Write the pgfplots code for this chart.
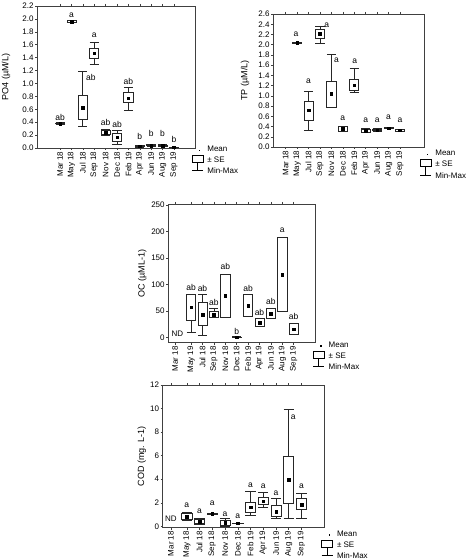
\documentclass[border=0pt]{standalone}
\usepackage{fontspec}
\setmainfont{Liberation Sans}
\usepackage{pgfplots}
\pgfplotsset{compat=1.18}
\usepgfplotslibrary{statistics}

\pgfplotsset{
  pan/.style={
    scale only axis, clip=false, anchor=south west,
    font=\fontsize{8}{9}\selectfont,
    ticklabel style={font=\fontsize{8}{9}\selectfont},
    label style={font=\fontsize{9}{10}\selectfont},
    /pgf/number format/assume math mode=true,
    axis line style={draw=black!75, line width=0.7pt},
    tick style={draw=black!75, line width=0.5pt},
    tick align=outside, major tick length=2pt,
    xtick pos=both, ytick pos=left,
    x tick label style={rotate=90, anchor=east, inner sep=1.5pt},
    y tick label style={inner sep=1.5pt},
    boxplot/draw direction=y,
    boxplot/box extend=0.8, boxplot/whisker extend=0.8,
    boxplot/draw/median/.code={},
  },
  lett/.style={draw=none, mark=none, nodes near coords, point meta=explicit symbolic,
    nodes near coords style={anchor=center, inner sep=0pt, font=\fontsize{8.5}{9}\selectfont}},
  mn/.style={only marks, mark=square*, mark size=1.3pt, black},
}

% box: position, min, mean-SE, mean, mean+SE, max
\newcommand{\bx}[6]{\addplot[black!85, line width=0.7pt, boxplot prepared={draw position=#1,
  lower whisker=#2, lower quartile=#3, median=#4, upper quartile=#5, upper whisker=#6}] coordinates {};}

\newcommand{\lgd}[2]{%
  \begin{scope}[shift={(#1pt,#2pt)}, x=1pt, y=1pt, line width=0.7pt, font=\fontsize{8}{9}\selectfont]
    \fill (7,-2.6) rectangle ++(1.4,1.4);
    \draw (0,-7) rectangle (11,-14);
    \draw (5.5,-14) -- (5.5,-22.5);
    \draw[line width=1pt] (0,-22.5) -- (11,-22.5);
    \node[anchor=west, inner sep=0pt] at (15,0) {Mean};
    \node[anchor=west, inner sep=0pt] at (15,-11.5) {± SE};
    \node[anchor=west, inner sep=0pt] at (15,-22.5) {Min-Max};
  \end{scope}}

\begin{document}
\begin{tikzpicture}
\path[use as bounding box] (0,0) rectangle (474pt,560pt);

% ---- PO4 ----
\begin{axis}[pan, at={(37.3pt,412pt)}, width=157.7pt, height=142pt,
  xmin=-2, xmax=11.85, ymin=0, ymax=2.2,
  xtick={0,...,10},
  xticklabels={Mar 18,May 18,Jul 18,Sep 18,Nov 18,Dec 18,Feb 19,Apr 19,Jun 19,Aug 19,Sep 19},
  ytick={0,0.2,0.4,0.6,0.8,1.0,1.2,1.4,1.6,1.8,2.0,2.2},
  yticklabel style={/pgf/number format/.cd, fixed, fixed zerofill, precision=1},
  ylabel={PO4 (µM/L)}, ylabel style={at={(axis description cs:-0.198,0.5)}, anchor=center}]
\bx{0}{0.37}{0.375}{0.38}{0.385}{0.39}
\bx{1}{1.945}{1.95}{1.96}{1.97}{1.975}
\bx{2}{0.34}{0.44}{0.625}{0.81}{1.18}
\bx{3}{1.30}{1.385}{1.467}{1.545}{1.64}
\bx{4}{0.20}{0.21}{0.24}{0.27}{0.29}
\bx{5}{0.06}{0.10}{0.165}{0.23}{0.28}
\bx{6}{0.59}{0.70}{0.77}{0.86}{0.94}
\bx{7}{0.015}{0.02}{0.03}{0.04}{0.045}
\bx{8}{0.03}{0.035}{0.04}{0.05}{0.055}
\bx{9}{0.02}{0.025}{0.035}{0.045}{0.06}
\bx{10}{0.005}{0.008}{0.01}{0.012}{0.015}
\addplot[mn] coordinates {(0,0.38) (1,1.96) (2,0.625) (3,1.467) (4,0.24) (5,0.165)
  (6,0.77) (7,0.03) (8,0.04) (9,0.035) (10,0.01)};
\addplot[lett] coordinates {(0,0.475) [ab] (1,2.06) [a] (2.7,1.09) [ab] (3,1.75) [a]
  (4,0.40) [ab] (5,0.37) [ab] (6,1.03) [ab] (7,0.175) [b] (8,0.22) [b] (9,0.22) [b] (10,0.135) [b]};
\end{axis}
\lgd{192}{411.5}

% ---- TP ----
\begin{axis}[pan, at={(273.3pt,413pt)}, width=150.7pt, height=133pt,
  xmin=-1.08, xmax=12.1, ymin=0, ymax=2.6,
  xtick={0,...,10},
  xticklabels={Mar 18,May 18,Jul 18,Sep 18,Nov 18,Dec 18,Feb 19,Apr 19,Jun 19,Aug 19,Sep 19},
  ytick={0,0.2,0.4,0.6,0.8,1.0,1.2,1.4,1.6,1.8,2.0,2.2,2.4,2.6},
  yticklabel style={/pgf/number format/.cd, fixed, fixed zerofill, precision=1},
  ylabel={TP (µM/L)}, ylabel style={at={(axis description cs:-0.188,0.5)}, anchor=center}]
\bx{1}{2.03}{2.035}{2.04}{2.045}{2.05}
\bx{2}{0.33}{0.53}{0.72}{0.89}{1.08}
\bx{3}{2.03}{2.12}{2.21}{2.30}{2.36}
\bx{4}{0.77}{0.77}{1.04}{1.29}{1.81}
\bx{5}{0.30}{0.30}{0.36}{0.41}{0.41}
\bx{6}{1.06}{1.10}{1.21}{1.32}{1.54}
\bx{7}{0.28}{0.29}{0.32}{0.35}{0.36}
\bx{8}{0.31}{0.32}{0.33}{0.35}{0.36}
\bx{9}{0.36}{0.365}{0.37}{0.38}{0.39}
\bx{10}{0.31}{0.315}{0.33}{0.345}{0.35}
\addplot[mn] coordinates {(1,2.04) (2,0.72) (3,2.21) (4,1.04) (5,0.36) (6,1.21)
  (7,0.32) (8,0.33) (9,0.37) (10,0.33)};
\addplot[lett] coordinates {(0.9,2.2) [a] (2,1.28) [a] (3.6,2.38) [a] (4.45,1.70) [a]
  (5,0.56) [a] (6.05,1.67) [a] (7,0.515) [a] (8,0.515) [a] (9,0.58) [a] (10,0.515) [a]};
\end{axis}
\lgd{420}{407.3}

% ---- OC ----
\begin{axis}[pan, at={(168.3pt,217.3pt)}, width=147.4pt, height=138.7pt,
  xmin=-1, xmax=11.93, ymin=-10, ymax=252,
  xtick={-0.4,1,2,3,4,5,6,7,8,9,10},
  xticklabels={Mar 18,May 19,Jul 18,Sep 18,Nov 18,Dec 18,Feb 19,Apr 19,Jun 19,Aug 19,Sep 19},
  ytick={0,50,100,150,200,250},
  ylabel={OC (µML-1)}, ylabel style={at={(axis description cs:-0.176,0.5)}, anchor=center}]
\bx{1}{9}{33}{57}{81}{81}
\bx{2}{4.4}{22}{43}{65.5}{80.6}
\bx{3}{37}{37}{43}{48.5}{55}
\bx{4}{38.4}{38.4}{78.7}{120}{120}
\bx{5}{0}{0.3}{0.6}{1}{1.2}
\bx{6}{40}{40}{60}{81}{81}
\bx{7}{20}{20}{27.7}{36}{36}
\bx{8}{36}{36}{45}{55}{55}
\bx{9}{48.5}{48.5}{118}{189}{189}
\bx{10}{6.3}{6.3}{15.7}{26.4}{26.4}
\addplot[mn] coordinates {(1,57) (2,43) (3,43) (4,78.7) (5,0.6) (6,60) (7,27.7)
  (8,45) (9,118) (10,15.7)};
\addplot[lett] coordinates {(1,94.5) [ab] (2,92.6) [ab] (3,66.8) [ab] (4,134.8) [ab]
  (5,10.7) [b] (6,92) [ab] (7,47.9) [ab] (8,68) [ab] (9,201.5) [a] (10,39) [ab]};
\node[font=\fontsize{8}{9}\selectfont] at (axis cs:-0.2,6.3) {ND};
\end{axis}
\lgd{313.3}{215.7}

% ---- COD ----
\begin{axis}[pan, at={(162.7pt,32.5pt)}, width=161.6pt, height=142.5pt,
  xmin=-0.89, xmax=11.79, ymin=-0.1, ymax=12,
  xtick={-0.25,1,2,3,4,5,6,7,8,9,10},
  xticklabels={Mar 18,May 18,Jul 18,Sep 18,Nov 18,Dec 18,Feb 19,Apr 19,Jun 19,Aug 19,Sep 19},
  ytick={0,2,4,6,8,10,12},
  ylabel={COD (mg. L-1)}, ylabel style={at={(axis description cs:-0.13,0.5)}, anchor=center}]
\bx{1}{0.5}{0.55}{0.8}{1.1}{1.2}
\bx{2}{0.2}{0.25}{0.4}{0.6}{0.7}
\bx{3}{1.02}{1.03}{1.05}{1.07}{1.08}
\bx{4}{0.02}{0.1}{0.3}{0.52}{0.65}
\bx{5}{0.22}{0.23}{0.25}{0.27}{0.28}
\bx{6}{0.96}{1.15}{1.63}{2.06}{2.93}
\bx{7}{1.6}{1.86}{2.14}{2.42}{2.85}
\bx{8}{0.65}{0.87}{1.25}{1.75}{2.4}
\bx{9}{0.7}{1.98}{3.95}{5.94}{9.9}
\bx{10}{0.7}{1.42}{1.83}{2.36}{2.84}
\addplot[mn] coordinates {(1,0.8) (2,0.4) (3,1.05) (4,0.3) (5,0.25) (6,1.63) (7,2.14)
  (8,1.25) (9,3.95) (10,1.83)};
\addplot[lett] coordinates {(1,1.75) [a] (2,1.3) [a] (3,1.95) [a] (4,1.0) [a] (5,0.87) [a]
  (6,3.5) [a] (7,3.4) [a] (8,2.85) [a] (9.36,9.3) [a] (10,3.4) [a]};
\node[font=\fontsize{8}{9}\selectfont] at (axis cs:-0.24,0.68) {ND};
\end{axis}
\lgd{321.7}{26.7}
\end{tikzpicture}
\end{document}
